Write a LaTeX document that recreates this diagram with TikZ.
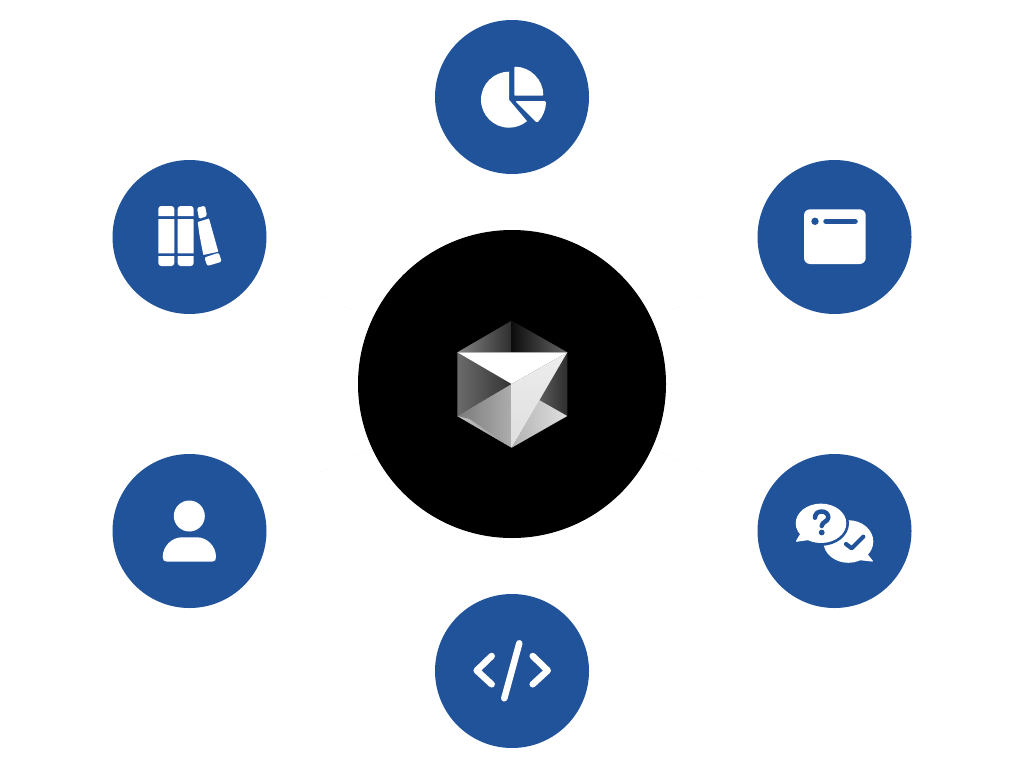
\documentclass[tikz,border=0pt]{standalone}
\definecolor{hubblue}{HTML}{21539B}
\tikzset{
  hub/.style={circle,fill=hubblue,draw=none,minimum size=154pt,inner sep=0pt},
  core/.style={circle,fill=black,draw=none,minimum size=308pt,inner sep=0pt},
  faint/.style={draw=black!5,line width=0.6pt,dotted},
  ico/.style={fill=white,draw=none},
  icoline/.style={draw=white,line width=6.5pt,line cap=round,line join=round},
  cut/.style={draw=hubblue,line cap=round,line join=round}
}
\begin{document}
\begin{tikzpicture}[x=1pt,y=-1pt]
\useasboundingbox (0,0) rectangle (1024,768);
\fill[white] (0,0) rectangle (1024,768);

% centre and surrounding circles
\coordinate (f1) at (318,294);
\coordinate (f2) at (706,294);
\coordinate (f3) at (318,473);
\coordinate (f4) at (706,473);
\node[core] (centre) at (512,384) {};
\draw[faint] (f1) -- (centre);
\draw[faint] (f2) -- (centre);
\draw[faint] (f3) -- (centre);
\draw[faint] (f4) -- (centre);
\node[hub] (pie) at (512,97) {};
\node[hub] (books) at (189.5,237) {};
\node[hub] (window) at (834.5,237) {};
\node[hub] (person) at (189.5,531) {};
\node[hub] (chat) at (834.5,531) {};
\node[hub] (code) at (512,671) {};

% cube logo
\coordinate (T) at (511.7,320.7);
\coordinate (UL) at (457.3,352.3);
\coordinate (UR) at (567.3,352.3);
\coordinate (M) at (511.7,352.3);
\coordinate (C) at (511.7,384);
\coordinate (LL) at (457.3,416);
\coordinate (LR) at (567.3,416);
\coordinate (B) at (511.7,447.7);
\coordinate (K) at (539.2,400);
\path[left color=black!48,right color=black!82] (T) -- (UL) -- (M) -- cycle;
\path[left color=black!95,right color=black!60] (T) -- (M) -- (UR) -- cycle;
\path[left color=black!58,right color=black!80] (UL) -- (C) -- (LL) -- cycle;
\path[left color=black!52,right color=black!32] (LL) -- (C) -- (B) -- cycle;
\path[left color=black!24,right color=black!42] (LL) -- ++(12,3) -- (B) -- cycle;
\path[left color=black!64,right color=black!82] (UR) -- (LR) -- (K) -- cycle;
\path[left color=black!30,right color=black!12] (K) -- (LR) -- (B) -- cycle;
\path[top color=black!7,bottom color=black!13] (C) -- (UR) -- (B) -- cycle;
\fill[white] (UL) -- (UR) -- (C) -- cycle;

% pie chart icon
\fill[ico] (509,99.7) -- (509,71.7) arc[start angle=-90,end angle=-310,radius=28] -- cycle;
\fill[ico,rounded corners=0.8pt] (514.3,95.7) -- (514.3,66.7) arc[start angle=-90,end angle=0,radius=29] -- cycle;
\fill[ico,rounded corners=1.5pt] (515,101) -- (546,101) arc[start angle=0,end angle=45,radius=31] -- cycle;

% books icon
\fill[ico] (158.3,216) [rounded corners=3pt] -- (158.3,206) -- (174.3,206) [sharp corners] -- (174.3,216) -- cycle;
\fill[ico,rounded corners=0.5pt] (158.3,219) rectangle (174.3,253.3);
\fill[ico] (158.3,256) [rounded corners=3pt] -- (158.3,266) -- (174.3,266) [sharp corners] -- (174.3,256) -- cycle;
\fill[ico] (177.7,216) [rounded corners=3pt] -- (177.7,206) -- (193.7,206) [sharp corners] -- (193.7,216) -- cycle;
\fill[ico,rounded corners=0.5pt] (177.7,219) rectangle (193.7,253.3);
\fill[ico] (177.7,256) [rounded corners=3pt] -- (177.7,266) -- (193.7,266) [sharp corners] -- (193.7,256) -- cycle;
\fill[ico,rounded corners=1.5pt] (197,207.7) -- (205,205.7) -- (207,216) -- (199,219) -- cycle;
\fill[ico,rounded corners=0.6pt] (197.7,222) -- (209,218.5) -- (218.3,251.7) -- (203.3,255) -- (199.5,235) -- cycle;
\fill[ico,rounded corners=2pt] (204.3,257.5) -- (218.8,252.7) -- (221.7,261.7) -- (207.3,266) -- cycle;

% window icon
\fill[ico,rounded corners=6pt] (804,209.3) rectangle (865.7,264);
\fill[hubblue] (815,221.3) circle[radius=3.7];
\draw[cut,line width=5.5pt] (826,221.3) -- (855,221.3);

% person icon
\fill[ico] (189.3,516) circle[radius=15.5];
\fill[ico] (162.7,557) .. controls (162.7,546) and (172,537.3) .. (182,537.3) -- (197,537.3)
  .. controls (207,537.3) and (216,546) .. (216,557)
  .. controls (216,560) and (215,561.7) .. (212,561.7) -- (167,561.7)
  .. controls (164,561.7) and (162.7,560) .. (162.7,557) -- cycle;

% chat icon
\fill[ico] (848.3,541.5) ellipse[x radius=25,y radius=21.3];
\fill[ico,rounded corners=1pt] (866,552) -- (873.5,561.7) -- (858,560) -- cycle;
\fill[hubblue] (821,523.3) ellipse[x radius=28,y radius=22.5];
\fill[ico] (821,523.3) ellipse[x radius=25.3,y radius=19.7];
\fill[ico,rounded corners=1pt] (800,534) -- (795.5,541.9) -- (809,540) -- cycle;
\draw[cut,line width=4.5pt] (815,517.7) .. controls (815,513.5) and (818,511.5) .. (821.7,511.5)
  .. controls (825.5,511.5) and (828.3,514) .. (828.3,517.5)
  .. controls (828.3,521.5) and (821.7,522) .. (821.7,526);
\fill[hubblue] (821.7,532.5) circle[radius=2.9];
\draw[cut,line width=4.2pt] (846,544) -- (851.7,548.3) -- (863.3,536.7);

% code icon
\draw[icoline] (519.3,643.3) -- (504.3,698.3);
\draw[icoline] (491.7,656) -- (476.7,670.5) -- (491.7,684.3);
\draw[icoline] (532.7,656) -- (547.7,670.5) -- (532.7,684.3);
\end{tikzpicture}
\end{document}
